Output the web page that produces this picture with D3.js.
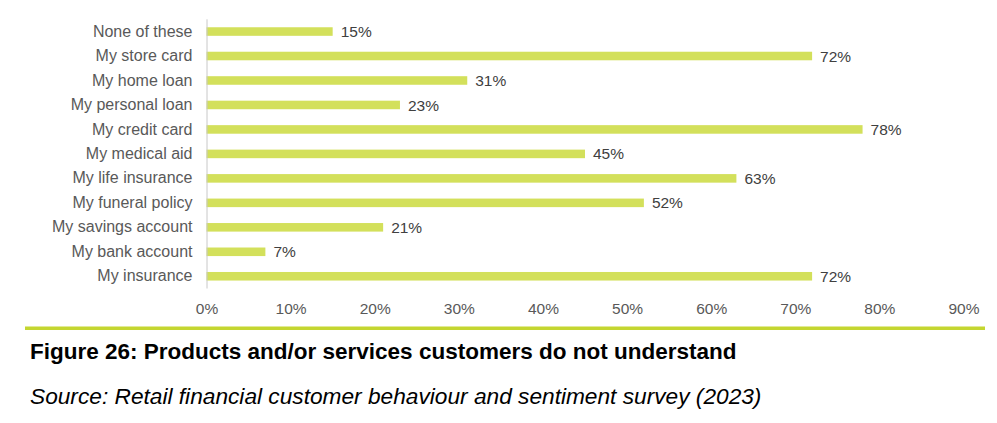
<!DOCTYPE html>
<html>
<head>
<meta charset="utf-8">
<script src="https://cdn.jsdelivr.net/npm/d3@7"></script>
<style>
  body { margin: 0; background: #fff; }
  text { font-family: "Liberation Sans", Arial, sans-serif; }
</style>
</head>
<body>
<div id="chart"></div>
<script>
const categories = ["None of these", "My store card", "My home loan", "My personal loan",
  "My credit card", "My medical aid", "My life insurance", "My funeral policy",
  "My savings account", "My bank account", "My insurance"];
const values = [15, 72, 31, 23, 78, 45, 63, 52, 21, 7, 72];
const ticks = [0, 10, 20, 30, 40, 50, 60, 70, 80, 90];
const title = "Figure 26: Products and/or services customers do not understand";
const source = "Source: Retail financial customer behaviour and sentiment survey (2023)";

const W = 997, H = 423;
const margin = {top: 19.3, left: 206.5, right: 34, bottom: 134.5};
const font = "'Liberation Sans', Arial, sans-serif";

const svg = d3.select("#chart").append("svg")
  .attr("width", W)
  .attr("height", H);

const x = d3.scaleLinear()
  .domain([0, 90])
  .range([margin.left, margin.left + 757]);

const y = d3.scaleBand()
  .domain(categories)
  .range([margin.top, H - margin.bottom])
  .paddingInner(0.65)
  .paddingOuter(0.325);

// bars
svg.selectAll(".bar")
  .data(values)
  .join("rect")
  .attr("class", "bar")
  .attr("x", x(0))
  .attr("y", (d, i) => y(categories[i]))
  .attr("width", d => x(d) - x(0))
  .attr("height", y.bandwidth())
  .attr("fill", "#d3e05b");

// value labels
svg.selectAll(".val")
  .data(values)
  .join("text")
  .attr("class", "val")
  .attr("x", d => x(d) + 8)
  .attr("y", (d, i) => y(categories[i]) + y.bandwidth() / 2)
  .attr("dy", "0.36em")
  .attr("font-size", 15.5)
  .attr("fill", "#404040")
  .text(d => d + "%");

// category axis
const yAxis = svg.append("g")
  .attr("transform", `translate(${x(0)},0)`)
  .call(d3.axisLeft(y).tickSize(0).tickPadding(14));
yAxis.select(".domain")
  .attr("stroke", "#c8c8c8")
  .attr("d", `M0.5,${margin.top}V${H - margin.bottom}`);
yAxis.selectAll("text")
  .attr("font-size", 16)
  .attr("fill", "#595959")
  .style("font-family", font);

// value axis (labels only)
const xAxis = svg.append("g")
  .attr("transform", `translate(0,${H - margin.bottom})`)
  .call(d3.axisBottom(x).tickValues(ticks).tickSize(0).tickPadding(14).tickFormat(d => d + "%"));
xAxis.select(".domain").remove();
xAxis.selectAll("text")
  .attr("font-size", 15.5)
  .attr("fill", "#595959")
  .style("font-family", font);

// separator rule
svg.append("rect")
  .attr("x", 25)
  .attr("y", 326.5)
  .attr("width", 960)
  .attr("height", 3.5)
  .attr("fill", "#c4d630");

svg.append("text")
  .attr("x", 30)
  .attr("y", 359)
  .attr("font-size", 22.5)
  .attr("font-weight", "bold")
  .attr("fill", "#000")
  .text(title);

svg.append("text")
  .attr("x", 30)
  .attr("y", 404)
  .attr("font-size", 22.7)
  .attr("font-style", "italic")
  .attr("fill", "#000")
  .text(source);
</script>
</body>
</html>
